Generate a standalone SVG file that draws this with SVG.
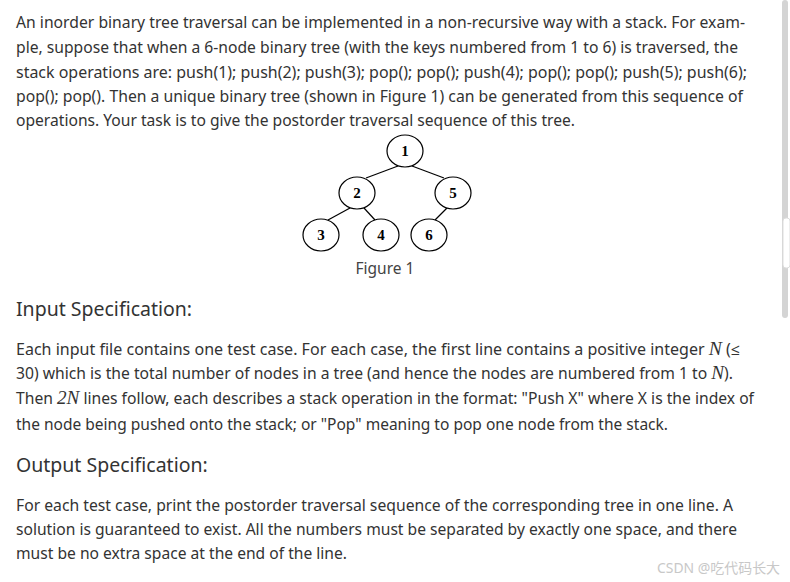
<svg xmlns="http://www.w3.org/2000/svg" width="790" height="582" viewBox="0 0 790 582">
<style>
.t{font-family:"Noto Sans","Open Sans",sans-serif;font-size:15.5px;fill:#333}
.h{font-family:"Noto Sans","Open Sans",sans-serif;font-size:19.5px;fill:#333}
.m{font-family:"Liberation Serif",serif;font-style:italic;font-size:19px}
.n{fill:#fff;stroke:#000;stroke-width:1.2}
.k{font-family:"Liberation Serif",serif;font-weight:bold;font-size:15px;fill:#000;text-anchor:middle}
.e{stroke:#000;stroke-width:1.2}
</style>
<rect width="790" height="582" fill="#fff"/>
<text class="t" x="16" y="28" textLength="729" lengthAdjust="spacingAndGlyphs">An inorder binary tree traversal can be implemented in a non-recursive way with a stack.  For exam-</text>
<text class="t" x="16" y="53" textLength="722" lengthAdjust="spacingAndGlyphs">ple, suppose that when a 6-node binary tree (with the keys numbered from 1 to 6) is traversed, the</text>
<text class="t" x="16" y="78" textLength="731" lengthAdjust="spacingAndGlyphs">stack operations are: push(1); push(2); push(3); pop(); pop(); push(4); pop(); pop(); push(5); push(6);</text>
<text class="t" x="16" y="102" textLength="727" lengthAdjust="spacingAndGlyphs">pop(); pop().  Then a unique binary tree (shown in Figure 1) can be generated from this sequence of</text>
<text class="t" x="16" y="126" textLength="559" lengthAdjust="spacingAndGlyphs">operations.  Your task is to give the postorder traversal sequence of this tree.</text>
<g id="edges">
<line class="e" x1="398" y1="166" x2="366" y2="178"/>
<line class="e" x1="412" y1="166" x2="444" y2="178"/>
<line class="e" x1="350" y1="208" x2="328" y2="220"/>
<line class="e" x1="364" y1="208" x2="375" y2="220"/>
<line class="e" x1="447" y1="208" x2="435" y2="220"/>
</g>
<g id="n1"><ellipse class="n" cx="405" cy="151" rx="18" ry="16"/><text class="k" x="405" y="156">1</text></g>
<g id="n2"><ellipse class="n" cx="357" cy="193" rx="18" ry="16"/><text class="k" x="357" y="198">2</text></g>
<g id="n5"><ellipse class="n" cx="453" cy="193" rx="18" ry="16"/><text class="k" x="453" y="198">5</text></g>
<g id="n3"><ellipse class="n" cx="321" cy="235" rx="18" ry="16"/><text class="k" x="321" y="240">3</text></g>
<g id="n4"><ellipse class="n" cx="381" cy="235" rx="18" ry="16"/><text class="k" x="381" y="240">4</text></g>
<g id="n6"><ellipse class="n" cx="429" cy="235" rx="18" ry="16"/><text class="k" x="429" y="240">6</text></g>
<text class="t" x="385" y="274" text-anchor="middle" style="fill:#444">Figure 1</text>
<text class="h" x="16" y="316">Input Specification:</text>
<text class="t" x="16" y="355" textLength="724" lengthAdjust="spacingAndGlyphs">Each input file contains one test case.  For each case, the first line contains a positive integer <tspan class="m">N</tspan> (≤</text>
<text class="t" x="16" y="379" textLength="717" lengthAdjust="spacingAndGlyphs">30) which is the total number of nodes in a tree (and hence the nodes are numbered from 1 to <tspan class="m">N</tspan>).</text>
<text class="t" x="16" y="404" textLength="738" lengthAdjust="spacingAndGlyphs">Then <tspan class="m">2N</tspan> lines follow, each describes a stack operation in the format: "Push X" where X is the index of</text>
<text class="t" x="16" y="430" textLength="652" lengthAdjust="spacingAndGlyphs">the node being pushed onto the stack; or "Pop" meaning to pop one node from the stack.</text>
<text class="h" x="16" y="472">Output Specification:</text>
<text class="t" x="16" y="511" textLength="717" lengthAdjust="spacingAndGlyphs">For each test case, print the postorder traversal sequence of the corresponding tree in one line.  A</text>
<text class="t" x="16" y="535" textLength="721" lengthAdjust="spacingAndGlyphs">solution is guaranteed to exist.  All the numbers must be separated by exactly one space, and there</text>
<text class="t" x="16" y="559" textLength="331" lengthAdjust="spacingAndGlyphs">must be no extra space at the end of the line.</text>
<rect x="782" y="0" width="6" height="318" rx="3" fill="#d4d4d4"/>
<rect x="783" y="218" width="7" height="50" rx="3" fill="#fff" stroke="#ddd"/>
<text x="657" y="573" textLength="123" lengthAdjust="spacingAndGlyphs" style="font-family:'Noto Sans','Noto Sans CJK SC',sans-serif;font-size:14px;fill:#c8c8c8">CSDN @吃代码长大</text>
</svg>
